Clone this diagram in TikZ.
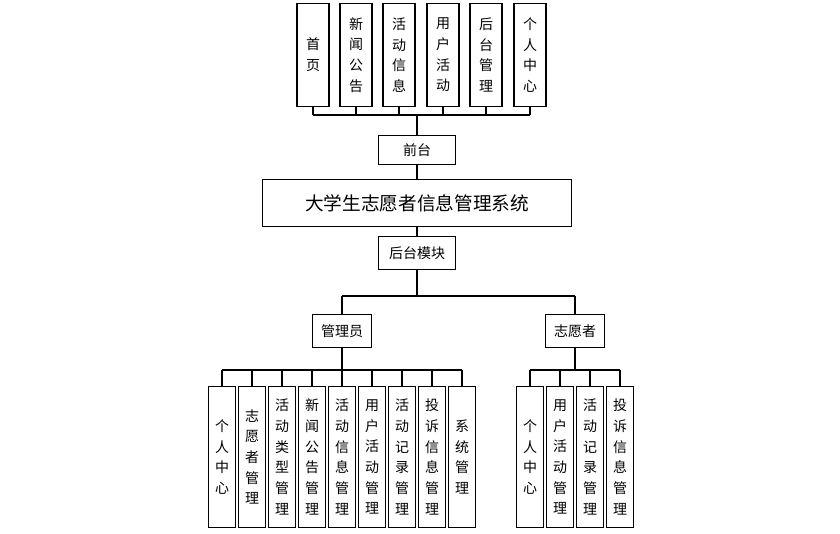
\documentclass[tikz,border=0pt]{standalone}
\usepackage{fontspec}
\setmainfont{Noto Sans CJK SC}
\begin{document}
\begin{tikzpicture}[x=0.75pt,y=-0.75pt,
  box/.style={draw,thick,inner sep=0pt,align=center,font=\fontsize{10.5}{15.5}\selectfont},
  ln/.style={thick}]
\useasboundingbox (0,0) rectangle (840,534);
% top
\foreach \n/\x/\t in {t1/313/{首\\页},t2/356/{新\\闻\\公\\告},t3/399/{活\\动\\信\\息},t4/443/{用\\户\\活\\动},t5/486/{后\\台\\管\\理},t6/530/{个\\人\\中\\心}}
  \node[box,minimum width=24pt,minimum height=77pt] (\n) at (\x,55) {\t};
\coordinate (bus) at (417,115);
\node[box,minimum width=58pt,minimum height=22pt] (qt) at (417,150) {前台};
\node[box,minimum width=232pt,minimum height=35pt,font=\fontsize{14}{16}\selectfont] (main) at (417,203) {大学生志愿者信息管理系统};
\node[box,minimum width=58pt,minimum height=25pt] (ht) at (417,253) {后台模块};
\node[box,minimum width=44pt,minimum height=25pt] (gl) at (342,331) {管理员};
\node[box,minimum width=44pt,minimum height=25pt] (zy) at (575,331) {志愿者};
\foreach \i in {1,...,6} \draw[ln] (t\i.south) -- (t\i.south |- bus);
\draw[ln] (t1.south |- bus) -- (t6.south |- bus);
\draw[ln] (bus) -- (qt.north);
\draw[ln] (qt) -- (main);
\draw[ln] (main) -- (ht);
\coordinate (hb) at (417,296);
\draw[ln] (ht.south) -- (hb);
\draw[ln] (gl.north |- hb) -- (zy.north |- hb);
\draw[ln] (gl.north |- hb) -- (gl.north);
\draw[ln] (zy.north |- hb) -- (zy.north);
% admin
\coordinate (ab) at (342,370);
\foreach \n/\x/\t in {a1/222/{个\\人\\中\\心},a2/252/{志\\愿\\者\\管\\理},a3/282/{活\\动\\类\\型\\管\\理},a4/312/{新\\闻\\公\\告\\管\\理},a5/342/{活\\动\\信\\息\\管\\理},a6/372/{用\\户\\活\\动\\管\\理},a7/402/{活\\动\\记\\录\\管\\理},a8/432/{投\\诉\\信\\息\\管\\理},a9/462/{系\\统\\管\\理}}
  {\node[box,minimum width=20pt,minimum height=106pt] (\n) at (\x,457) {\t};
   \draw[ln] (\n.north) -- (\n.north |- ab);}
\draw[ln] (a1.north |- ab) -- (a9.north |- ab);
\draw[ln] (gl.south) -- (ab);
% volunteer
\coordinate (vb) at (575,370);
\foreach \n/\x/\t in {v1/530/{个\\人\\中\\心},v2/560/{用\\户\\活\\动\\管\\理},v3/590/{活\\动\\记\\录\\管\\理},v4/620/{投\\诉\\信\\息\\管\\理}}
  {\node[box,minimum width=20pt,minimum height=106pt] (\n) at (\x,457) {\t};
   \draw[ln] (\n.north) -- (\n.north |- vb);}
\draw[ln] (v1.north |- vb) -- (v4.north |- vb);
\draw[ln] (zy.south) -- (vb);
\end{tikzpicture}
\end{document}
